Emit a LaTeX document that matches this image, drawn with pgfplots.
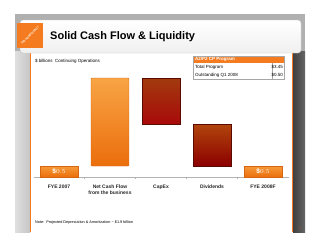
\documentclass[border=0pt]{standalone}
\usepackage{pgfplots}
\pgfplotsset{compat=1.18}
\usepackage{fontspec}
\setmainfont{Liberation Sans}
\definecolor{hdorange}{HTML}{F47B20}
\definecolor{ncftop}{HTML}{F8A445}
\definecolor{ncfbot}{HTML}{EB6E0C}
\definecolor{ncfedge}{HTML}{D86510}
\definecolor{redtop}{HTML}{A23A0E}
\definecolor{redbot}{HTML}{A80A0A}
\definecolor{divbot}{HTML}{8C0000}
\definecolor{rededge}{HTML}{5A0A00}
\definecolor{framegray}{HTML}{B0B0B0}
\definecolor{darkstrip}{HTML}{404040}
\begin{document}
\begin{tikzpicture}[x=1pt,y=1pt]
\useasboundingbox (0,0) rectangle (320,247);
\fill[white] (0,0) rectangle (320,247);
% frame
\fill[framegray] (15,15) rectangle (305,233);
\shade[left color=gray!25, right color=gray!45] (15,15) rectangle (30,196);
\shade[left color=darkstrip, right color=gray!80!black] (293,15) rectangle (305,196);
\fill[white] (30,15) rectangle (293,196);
\draw[hdorange, line width=1pt] (30.5,15) -- (30.5,196);
\draw[hdorange, line width=0.8pt] (292.6,15) -- (292.6,196);
% title box
\shade[top color=white, bottom color=gray!12, rounded corners=3pt, draw=gray!45] (20,194) rectangle (301,227);
% logo
\fill[hdorange] (17,199) rectangle (43,224);
\node[rotate=45, text=white, font=\bfseries\fontsize{2.7}{2.7}\selectfont, inner sep=0pt] at (30,211.5) {THE HOME DEPOT};
\node[anchor=west, font=\bfseries\fontsize{11}{13}\selectfont, inner sep=0pt] at (50,210) {Solid Cash Flow \& Liquidity};
% subtitle
\node[anchor=west, font=\fontsize{4.5}{5}\selectfont, inner sep=0pt] at (35,186) {\$ billions~~Continuing Operations};
% table
\fill[hdorange] (193,184) rectangle (284,191);
\draw[gray!70, line width=0.4pt] (193,168) rectangle (284,191);
\draw[gray!70, line width=0.4pt] (272,168) -- (272,184);
\node[anchor=west, text=white, font=\bfseries\fontsize{4.5}{5}\selectfont, inner sep=0pt] at (195,187.5) {A2/P2 CP Program};
\node[anchor=west, font=\fontsize{4.5}{5}\selectfont, inner sep=0pt] at (195,180) {Total Program};
\node[anchor=west, font=\fontsize{4.5}{5}\selectfont, inner sep=0pt] at (195,172) {Outstanding Q1 2008};
\node[anchor=east, font=\fontsize{4.5}{5}\selectfont, inner sep=0pt] at (283,180) {\$3.45};
\node[anchor=east, font=\fontsize{4.5}{5}\selectfont, inner sep=0pt] at (283,172) {\$0.50};
% note and page
\node[anchor=west, font=\fontsize{3.8}{4}\selectfont, inner sep=0pt] at (35,25) {Note:~~Projected Depreciation \& Amortization \textasciitilde\ \$1.9 billion};
\node[font=\fontsize{3.5}{3.5}\selectfont, text=hdorange!70!black, inner sep=0pt] at (300,18) {7};
\begin{axis}[
  at={(33.5pt,70pt)}, anchor=south west,
  scale only axis, width=255pt, height=101.2pt,
  xmin=-0.5, xmax=4.5, ymin=0, ymax=4.6,
  axis y line=none, axis x line*=bottom,
  x axis line style={draw=gray!60, line width=0.6pt},
  xtick={0,1,2,3,4},
  xticklabels={FYE 2007,{Net Cash Flow\\from the business},CapEx,Dividends,FYE 2008F},
  major tick length=0pt,
  minor xtick={0.5,1.5,2.5,3.5}, minor tick length=2pt, tick align=outside,
  minor tick style={draw=gray!60, line width=0.5pt},
  xticklabel style={font=\bfseries\fontsize{5}{6.2}\selectfont, align=center, text=black!85, yshift=-4pt},
  clip=false,
]
\addplot[ybar, bar width=38pt, bar shift=0pt, top color=ncftop!80!ncfbot, bottom color=ncfbot, draw=ncfedge, line width=0.4pt,
  nodes near coords={\$\pgfmathprintnumber{\pgfplotspointmeta}},
  every node near coord/.append style={text=white, font=\bfseries\fontsize{6.5}{7}\selectfont, anchor=center, yshift=-5.5pt}]
  coordinates {(0,0.5) (4,0.5)};
% Net cash flow: 0.5 -> 4.5
\addplot[top color=ncftop, bottom color=ncfbot, draw=ncfedge, line width=0.4pt, rounded corners=1pt]
  coordinates {(0.6275,0.5) (1.3725,0.5) (1.3725,4.5) (0.6275,4.5)} -- cycle;
% CapEx: 4.5 -> 2.4
\addplot[top color=redtop, bottom color=redbot, draw=rededge, line width=0.4pt]
  coordinates {(1.6275,2.4) (2.3725,2.4) (2.3725,4.5) (1.6275,4.5)} -- cycle;
% Dividends: 2.4 -> 0.5
\addplot[top color=redtop!85!orange, bottom color=divbot, draw=rededge, line width=0.4pt]
  coordinates {(2.6275,0.5) (3.3725,0.5) (3.3725,2.4) (2.6275,2.4)} -- cycle;
\end{axis}
\end{tikzpicture}
\end{document}
